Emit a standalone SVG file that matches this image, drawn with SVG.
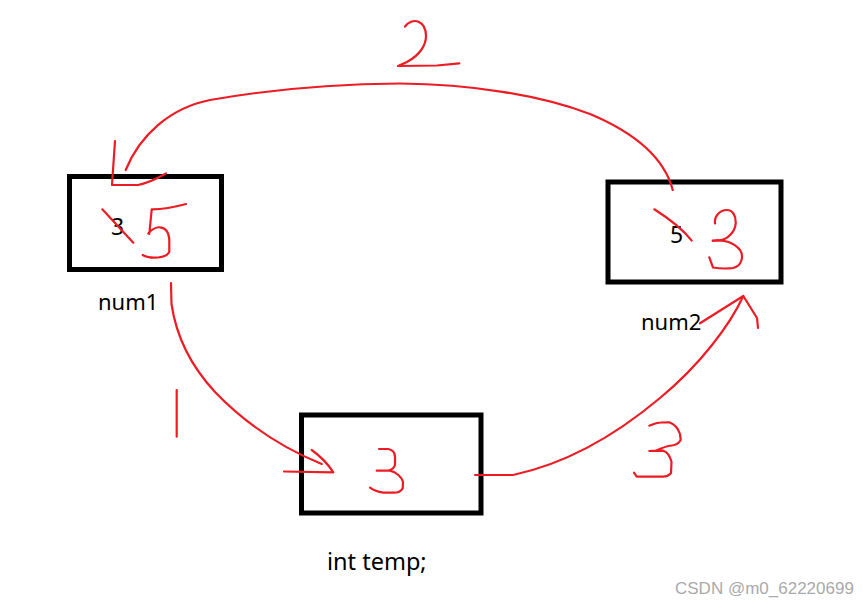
<svg xmlns="http://www.w3.org/2000/svg" width="866" height="604" viewBox="0 0 866 604">
<style>
.box{fill:none;stroke:#000;stroke-width:5}
.pen{fill:none;stroke:#ed1c24;stroke-width:2.2;stroke-linecap:round;stroke-linejoin:round}
.t{font-family:"Noto Sans","Liberation Sans",sans-serif;font-size:22px;fill:#000}
.wm{font-family:"Liberation Sans",Arial,sans-serif;font-size:17px;fill:#aaa}
</style>
<rect width="866" height="604" fill="#fff"/>
<g id="num1">
<rect class="box" x="69.5" y="176.5" width="152" height="93"/>
<text class="t" x="111" y="235" style="font-size:23px">3</text>
<text class="t" x="98" y="310">num1</text>
<path class="pen" d="M102.3,209.3 L133.3,242.7"/>
<path class="pen" d="M186,204 C175,207 165,209.5 151.7,209.3 L149.3,234 M148.3,233.5 C152,229 156,227 160,227.3 C166,228 169,232 169.3,240 L169.3,251.7 C168,255 164,257 158,257.5 C152,258 146,257 142.7,255"/>
</g>
<g id="num2">
<rect class="box" x="608" y="182" width="173" height="100"/>
<text class="t" x="670" y="243" style="font-size:23px">5</text>
<text class="t" x="641" y="330">num2</text>
<path class="pen" d="M654.3,209.3 C668,218 682,228 691.7,240.7"/>
<path class="pen" d="M715,223.3 C714,216 720,210 726.7,210 C733,210 736,216 735.7,223.3 C735,232 728,239 720,240.5 L712.7,241 M712.7,240.5 C722,239 734,242 740,250 C744,256 742,266 733,268 C725,269 716,268 713,267.5 L709.3,257.3"/>
</g>
<g id="temp">
<rect class="box" x="301.5" y="415" width="179.5" height="98"/>
<text class="t" x="327" y="570" style="font-size:23.5px">int temp;</text>
<path class="pen" d="M379,449 L388.3,449 C393,450 395,453 395,457 L395,465 C394,468 391,470 388,470.5 L376.7,470.7 L390,470.7 C396,472 402,477 403,482 L402.7,488.3 C401,491 398,492.7 394,492.7 L383.3,492.7 C378,492 373,490 370,487.7"/>
</g>
<g id="connectors">
<path class="pen" d="M171,283 L171.5,304 C176,335 190,365 215,392 C240,418 275,445 321.7,464"/>
<path class="pen" d="M311.7,450 C320,456 328,464 333.3,472.3 M284,471.5 L333.3,472.3"/>
<path class="pen" d="M672.7,190 C665,160 640,135 590,114 C540,95 470,84 400,83.5 C320,84 250,93 210,100 C170,108 140,135 125.7,170"/>
<path class="pen" d="M115,141 L113,170 L112,185 L138,185 C148,183 158,178 166,173.5"/>
<path class="pen" d="M475,475 L513,475 C560,465 610,440 660,398 C700,365 730,325 743.3,296"/>
<path class="pen" d="M700,323.3 L743.3,296 L757,318 L758,328"/>
</g>
<g id="labels">
<path class="pen" d="M176.7,390 L176.7,436.7"/>
<path class="pen" d="M405,26.7 C408,22 414,20 418,21.5 C424,24 426,30 426,36 C426,45 420,55 407,62 L398,66 L437,65.5 L459.3,63.3"/>
<path class="pen" d="M649.3,425.7 C654,424 657,422.5 661,422.5 L669.3,422.3 C674,424 678,428 680,434 L680.7,440 C679,443 676,445 672,445.5 L668.3,446 C664,447 660,449 656,450.5 L649.3,451 L663.3,450.7 C667,452 670,456 671.5,461.7 L671,473.3 C669,475.5 667,476.5 663,476.7 L636.7,476.7 L634,472.7"/>
</g>
<text class="wm" x="675" y="594">CSDN @m0_62220699</text>
</svg>
